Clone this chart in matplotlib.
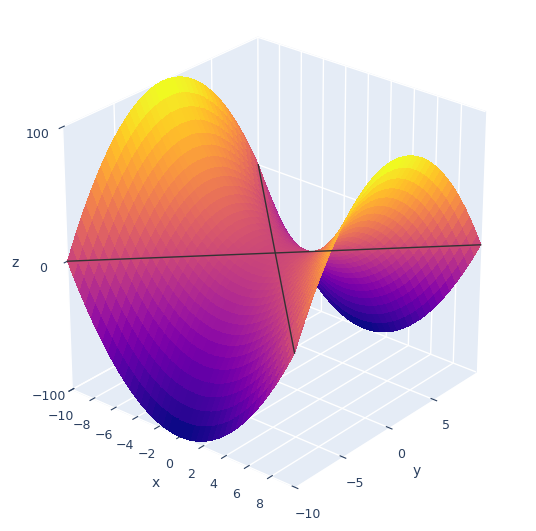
import numpy as np
import matplotlib
matplotlib.use("Agg")
import matplotlib.pyplot as plt

# grid: x and y run -10..10, surface is a saddle z = x^2 - y^2
x_vals = np.linspace(-10, 10, 41)
y_vals = np.linspace(-10, 10, 41)
x_ticks = [-10, -8, -6, -4, -2, 0, 2, 4, 6, 8]
y_ticks = [-10, -5, 0, 5]
z_ticks = [-100, 0, 100]

X, Y = np.meshgrid(x_vals, y_vals)
Z = X**2 - Y**2

fig = plt.figure(figsize=(5.36, 5.31), dpi=100)
ax = fig.add_axes([0.0, 0.0, 1.0, 1.02], projection='3d')

ax.plot_surface(X, Y, Z, cmap='plasma', rstride=1, cstride=1,
                linewidth=0, antialiased=False, shade=False)

# zero contour lines
ax.plot(x_vals, x_vals, 0 * x_vals, color='#333333', lw=1, zorder=10)
ax.plot(x_vals, -x_vals, 0 * x_vals, color='#333333', lw=1, zorder=10)

pane = (0.898, 0.925, 0.965, 1.0)
for a in (ax.xaxis, ax.yaxis, ax.zaxis):
    a.set_pane_color(pane)
    a._axinfo['grid']['color'] = (1, 1, 1, 1)
    a._axinfo['grid']['linewidth'] = 1.0
    a.line.set_color((1, 1, 1, 0))

ax.set_xticks(x_ticks)
ax.set_yticks(y_ticks)
ax.set_zticks(z_ticks)
ax.set_xlim(-10, 10)
ax.set_ylim(-10, 10)
ax.set_zlim(-100, 100)
ax.tick_params(labelsize=9, colors='#2a3f5f')
ax.set_xlabel('x', color='#2a3f5f')
ax.set_ylabel('y', color='#2a3f5f')
ax.set_zlabel('z', color='#2a3f5f')
ax.zaxis.set_ticks_position('lower')
ax.zaxis.set_label_position('lower')
ax.set_box_aspect((1, 1, 1), zoom=0.92)
ax.view_init(elev=27, azim=-50)

fig.savefig('out.png', dpi=100)
